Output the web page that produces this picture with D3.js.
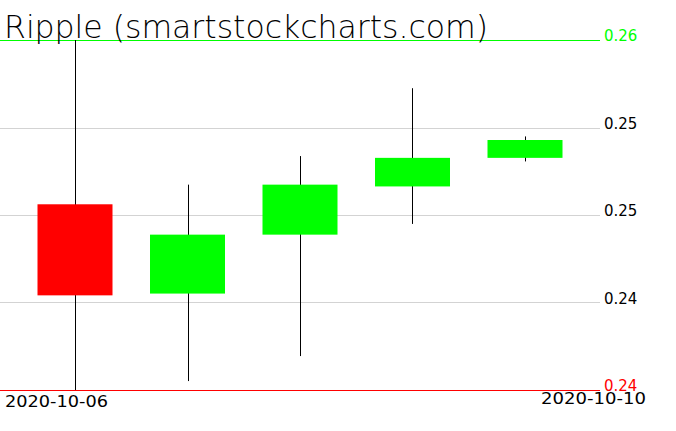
<!DOCTYPE html>
<html lang="en">
<head>
  <meta charset="UTF-8">
  <title>Ripple</title>
  <script src="https://cdn.jsdelivr.net/npm/d3@7"></script>
  <style>
    body { margin: 0; background: #fff; }
    svg { display: block; }
  </style>
</head>
<body>
<script>
  // candle data
  const dates = ['2020-10-06', '2020-10-07', '2020-10-08', '2020-10-09', '2020-10-10'];
  const opens = [0.2504, 0.2454, 0.2487, 0.2514, 0.2530];
  const highs = [0.2596, 0.2515, 0.2531, 0.2569, 0.2542];
  const lows = [0.2400, 0.2405, 0.2419, 0.2493, 0.2528];
  const closes = [0.2453, 0.2487, 0.2515, 0.2530, 0.2540];
  const tickLabels = ['0.26', '0.25', '0.25', '0.24', '0.24'];

  (function () {
  const w = 676;
  const h = 431;
  const plotW = 600;
  const plotTop = 40;
  const plotBottom = 390;

  const svg = d3.select('body')
    .append('svg')
    .attr('width', w)
    .attr('height', h);

  const xScale = d3.scaleBand()
    .domain(dates)
    .range([0, plotW])
    .paddingInner(1 / 3)
    .paddingOuter(1 / 3);

  const yMin = d3.min(lows);
  const yMax = d3.max(highs);
  const yScale = d3.scaleLinear()
    .domain([yMin, yMax])
    .range([plotBottom, plotTop]);

  // 5 evenly spaced levels, top to bottom
  const levels = tickLabels.map((t, i) => yMax - i * (yMax - yMin) / (tickLabels.length - 1));
  const levelColor = (i) => i === 0 ? '#00ff00' : (i === tickLabels.length - 1 ? '#ff0000' : '#000');
  const lineColor = (i) => i === 0 ? '#00ff00' : (i === tickLabels.length - 1 ? '#ff0000' : '#d3d3d3');

  svg.selectAll('line.grid')
    .data(levels)
    .enter()
    .append('line')
    .attr('class', 'grid')
    .attr('x1', 0)
    .attr('x2', plotW)
    .attr('y1', d => Math.round(yScale(d)) + 0.5)
    .attr('y2', d => Math.round(yScale(d)) + 0.5)
    .attr('stroke', (d, i) => lineColor(i))
    .attr('stroke-width', 1);

  const candles = dates.map((d, i) => ({
    date: d, open: opens[i], high: highs[i], low: lows[i], close: closes[i]
  }));

  // wicks
  svg.selectAll('line.wick')
    .data(candles)
    .enter()
    .append('line')
    .attr('class', 'wick')
    .attr('x1', d => Math.round(xScale(d.date) + xScale.bandwidth() / 2) + 0.5)
    .attr('x2', d => Math.round(xScale(d.date) + xScale.bandwidth() / 2) + 0.5)
    .attr('y1', d => yScale(d.high))
    .attr('y2', d => yScale(d.low))
    .attr('stroke', '#000')
    .attr('stroke-width', 1);

  // bodies
  svg.selectAll('rect.body')
    .data(candles)
    .enter()
    .append('rect')
    .attr('class', 'body')
    .attr('x', d => xScale(d.date))
    .attr('width', xScale.bandwidth())
    .attr('y', d => yScale(Math.max(d.open, d.close)))
    .attr('height', d => Math.abs(yScale(d.open) - yScale(d.close)))
    .attr('fill', d => d.close >= d.open ? '#00ff00' : '#ff0000');

  // price labels on the right
  svg.selectAll('text.price')
    .data(levels)
    .enter()
    .append('text')
    .attr('class', 'price')
    .attr('x', 604)
    .attr('y', d => yScale(d) + 1)
    .attr('fill', (d, i) => levelColor(i))
    .style('font', '15px "DejaVu Sans", sans-serif')
    .text((d, i) => tickLabels[i]);

  // first and last date
  svg.append('text')
    .attr('x', 5)
    .attr('y', 407)
    .attr('textLength', 103)
    .attr('lengthAdjust', 'spacingAndGlyphs')
    .style('font', '15px "DejaVu Sans", sans-serif')
    .text(dates[0]);
  svg.append('text')
    .attr('x', 541)
    .attr('y', 404)
    .attr('textLength', 105)
    .attr('lengthAdjust', 'spacingAndGlyphs')
    .style('font', '15px "DejaVu Sans", sans-serif')
    .text(dates[dates.length - 1]);

  svg.append('text')
    .attr('x', 4)
    .attr('y', 38)
    .attr('textLength', 484)
    .attr('lengthAdjust', 'spacingAndGlyphs')
    .style('font', '200 32px "DejaVu Sans", sans-serif')
    .text('Ripple (smartstockcharts.com)');
  })();
</script>
</body>
</html>
